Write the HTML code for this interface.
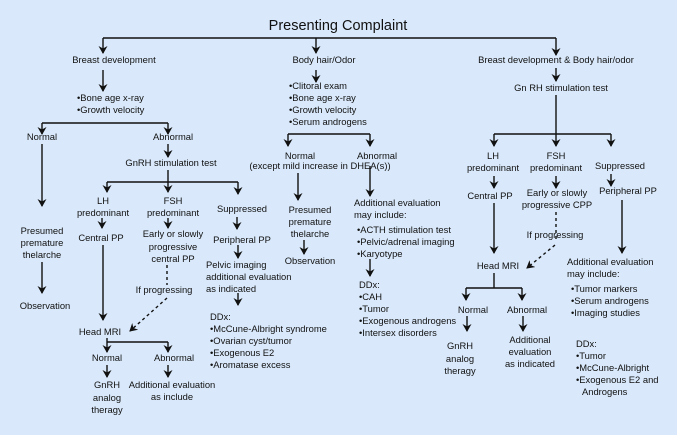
<!DOCTYPE html>
<html><head><meta charset="utf-8"><style>
html,body{margin:0;padding:0;background:#d9e9fb;}
svg{display:block;}
text{font-family:"Liberation Sans",sans-serif;font-size:9.4px;fill:#111;}
.c{text-anchor:middle;}
line{stroke:#111;stroke-width:1.4;}
.d{stroke-dasharray:3,3;}
</style></head><body>
<svg width="677" height="435" viewBox="0 0 677 435" xmlns="http://www.w3.org/2000/svg">
<defs><marker id="a" markerWidth="9" markerHeight="9" refX="7" refY="4.5" orient="auto" markerUnits="userSpaceOnUse"><path d="M0,0 L8,4.5 L0,9 L2.5,4.5 z" fill="#111"/></marker></defs>
<rect width="677" height="435" fill="#d9e9fb"/>
<text x="338" y="30" class="c" style="font-size:14.5px">Presenting Complaint</text>
<line x1="103" y1="38" x2="556" y2="38"/>
<line x1="103" y1="38" x2="103" y2="53" marker-end="url(#a)"/>
<line x1="316" y1="38" x2="316" y2="53" marker-end="url(#a)"/>
<line x1="556" y1="38" x2="556" y2="55" marker-end="url(#a)"/>

<!-- left -->
<text x="114" y="63" class="c">Breast development</text>
<line x1="103" y1="70" x2="103" y2="91" marker-end="url(#a)"/>
<text x="77" y="101">•Bone age x-ray</text>
<text x="77" y="113">•Growth velocity</text>
<line x1="42" y1="123" x2="168" y2="123"/>
<line x1="42" y1="123" x2="42" y2="134" marker-end="url(#a)"/>
<line x1="168" y1="123" x2="168" y2="134" marker-end="url(#a)"/>
<text x="42" y="140" class="c">Normal</text>
<text x="173" y="140" class="c">Abnormal</text>
<line x1="168" y1="144" x2="168" y2="157" marker-end="url(#a)"/>
<text x="171" y="166" class="c">GnRH stimulation test</text>
<line x1="168" y1="170" x2="168" y2="182"/>
<line x1="107" y1="182" x2="238" y2="182"/>
<line x1="107" y1="182" x2="107" y2="192" marker-end="url(#a)"/>
<line x1="168" y1="182" x2="168" y2="192" marker-end="url(#a)"/>
<line x1="238" y1="182" x2="238" y2="194" marker-end="url(#a)"/>
<text x="103" y="204" class="c">LH</text><text x="103" y="216" class="c">predominant</text>
<text x="173" y="204" class="c">FSH</text><text x="173" y="216" class="c">predominant</text>
<text x="242" y="212" class="c">Suppressed</text>
<line x1="42" y1="144" x2="42" y2="206" marker-end="url(#a)"/>
<text x="42" y="234" class="c">Presumed</text><text x="42" y="246" class="c">premature</text><text x="42" y="258" class="c">thelarche</text>
<line x1="42" y1="262" x2="42" y2="293" marker-end="url(#a)"/>
<text x="45" y="309" class="c">Observation</text>
<line x1="102" y1="218" x2="102" y2="228" marker-end="url(#a)"/>
<text x="101" y="241" class="c">Central PP</text>
<line x1="103" y1="245" x2="103" y2="320" marker-end="url(#a)"/>
<text x="100" y="335" class="c">Head MRI</text>
<line x1="168" y1="218" x2="168" y2="228" marker-end="url(#a)"/>
<text x="173" y="237" class="c">Early or slowly</text>
<text x="173" y="250" class="c">progressive</text>
<text x="173" y="262" class="c">central PP</text>
<line class="d" x1="167" y1="265" x2="167" y2="285"/>
<text x="164" y="293" class="c">If progressing</text>
<line class="d" x1="167" y1="298" x2="130" y2="331" marker-end="url(#a)"/>
<line x1="107" y1="338" x2="107" y2="342"/>
<line x1="107" y1="342" x2="168" y2="342"/>
<line x1="107" y1="342" x2="107" y2="352" marker-end="url(#a)"/>
<line x1="168" y1="342" x2="168" y2="352" marker-end="url(#a)"/>
<text x="107" y="361" class="c">Normal</text>
<text x="174" y="361" class="c">Abnormal</text>
<line x1="107" y1="365" x2="107" y2="377" marker-end="url(#a)"/>
<line x1="168" y1="365" x2="168" y2="377" marker-end="url(#a)"/>
<text x="107" y="388" class="c">GnRH</text><text x="107" y="401" class="c">analog</text><text x="107" y="413" class="c">theragy</text>
<text x="172" y="388" class="c">Additional evaluation</text><text x="172" y="400" class="c">as include</text>
<line x1="237" y1="217" x2="237" y2="229" marker-end="url(#a)"/>
<text x="242" y="243" class="c">Peripheral PP</text>
<line x1="238" y1="245" x2="238" y2="258" marker-end="url(#a)"/>
<text x="206" y="268">Pelvic imaging</text>
<text x="206" y="280">additional evaluation</text>
<text x="206" y="292">as indicated</text>
<line x1="238" y1="293" x2="238" y2="305" marker-end="url(#a)"/>
<text x="210" y="320">DDx:</text>
<text x="210" y="332">•McCune-Albright syndrome</text>
<text x="210" y="344">•Ovarian cyst/tumor</text>
<text x="210" y="356">•Exogenous E2</text>
<text x="210" y="368">•Aromatase excess</text>

<!-- middle -->
<text x="324" y="63" class="c">Body hair/Odor</text>
<line x1="316" y1="70" x2="316" y2="82" marker-end="url(#a)"/>
<text x="289" y="89">•Clitoral exam</text>
<text x="289" y="101">•Bone age x-ray</text>
<text x="289" y="113">•Growth velocity</text>
<text x="289" y="125">•Serum androgens</text>
<line x1="288" y1="134" x2="370" y2="134"/>
<line x1="288" y1="134" x2="288" y2="146" marker-end="url(#a)"/>
<line x1="370" y1="134" x2="370" y2="146" marker-end="url(#a)"/>
<text x="300" y="159" class="c">Normal</text>
<text x="320" y="169" class="c">(except mild increase in DHEA(s))</text>
<text x="377" y="159" class="c">Abnormal</text>
<line x1="298" y1="173" x2="298" y2="200" marker-end="url(#a)"/>
<line x1="370" y1="166" x2="370" y2="196" marker-end="url(#a)"/>
<text x="310" y="213" class="c">Presumed</text><text x="310" y="225" class="c">premature</text><text x="310" y="237" class="c">thelarche</text>
<line x1="304" y1="240" x2="304" y2="254" marker-end="url(#a)"/>
<text x="310" y="264" class="c">Observation</text>
<text x="354" y="206">Additional evaluation</text>
<text x="354" y="218">may include:</text>
<text x="357" y="233">•ACTH stimulation test</text>
<text x="357" y="245">•Pelvic/adrenal imaging</text>
<text x="357" y="257">•Karyotype</text>
<line x1="370" y1="259" x2="370" y2="276" marker-end="url(#a)"/>
<text x="359" y="288">DDx:</text>
<text x="359" y="300">•CAH</text>
<text x="359" y="312">•Tumor</text>
<text x="359" y="324">•Exogenous androgens</text>
<text x="359" y="336">•Intersex disorders</text>

<!-- right -->
<text x="556" y="63" class="c">Breast development &amp; Body hair/odor</text>
<line x1="556" y1="68" x2="556" y2="81" marker-end="url(#a)"/>
<text x="561" y="91" class="c">Gn RH stimulation test</text>
<line x1="556" y1="95" x2="556" y2="146" marker-end="url(#a)"/>
<line x1="494" y1="134" x2="611" y2="134"/>
<line x1="494" y1="134" x2="494" y2="146" marker-end="url(#a)"/>
<line x1="611" y1="134" x2="611" y2="146" marker-end="url(#a)"/>
<text x="493" y="159" class="c">LH</text><text x="493" y="171" class="c">predominant</text>
<text x="556" y="159" class="c">FSH</text><text x="556" y="171" class="c">predominant</text>
<text x="620" y="169" class="c">Suppressed</text>
<line x1="494" y1="176" x2="494" y2="188" marker-end="url(#a)"/>
<text x="490" y="199" class="c">Central PP</text>
<line x1="556" y1="176" x2="556" y2="188" marker-end="url(#a)"/>
<text x="557" y="196" class="c">Early or slowly</text>
<text x="557" y="208" class="c">progressive CPP</text>
<line x1="611" y1="174" x2="611" y2="186" marker-end="url(#a)"/>
<text x="628" y="194" class="c">Peripheral PP</text>
<line x1="494" y1="203" x2="494" y2="253" marker-end="url(#a)"/>
<text x="498" y="269" class="c">Head MRI</text>
<line class="d" x1="556" y1="212" x2="556" y2="240"/>
<text x="555" y="238" class="c">If progressing</text>
<line class="d" x1="555" y1="245" x2="527" y2="268" marker-end="url(#a)"/>
<line x1="622" y1="200" x2="622" y2="253" marker-end="url(#a)"/>
<text x="567" y="265">Additional evaluation</text>
<text x="567" y="277">may include:</text>
<text x="571" y="292">•Tumor markers</text>
<text x="571" y="304">•Serum androgens</text>
<text x="571" y="316">•Imaging studies</text>
<text x="576" y="347">DDx:</text>
<text x="576" y="359">•Tumor</text>
<text x="576" y="371">•McCune-Albright</text>
<text x="576" y="383">•Exogenous E2 and</text>
<text x="582" y="395">Androgens</text>
<line x1="494" y1="273" x2="494" y2="288"/>
<line x1="466" y1="288" x2="522" y2="288"/>
<line x1="466" y1="288" x2="466" y2="300" marker-end="url(#a)"/>
<line x1="522" y1="288" x2="522" y2="300" marker-end="url(#a)"/>
<text x="473" y="313" class="c">Normal</text>
<text x="527" y="313" class="c">Abnormal</text>
<line x1="467" y1="316" x2="467" y2="331" marker-end="url(#a)"/>
<line x1="523" y1="316" x2="523" y2="331" marker-end="url(#a)"/>
<text x="460" y="349" class="c">GnRH</text><text x="460" y="362" class="c">analog</text><text x="460" y="374" class="c">theragy</text>
<text x="530" y="343" class="c">Additional</text><text x="530" y="355" class="c">evaluation</text><text x="530" y="367" class="c">as indicated</text>
</svg>
</body></html>
